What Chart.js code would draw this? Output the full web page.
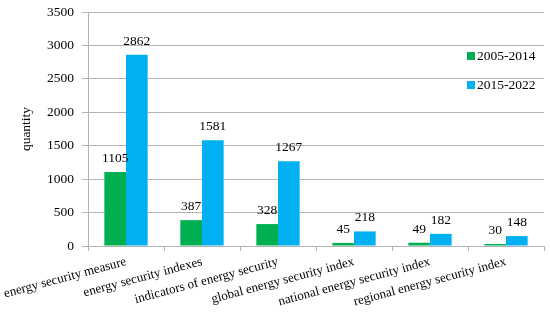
<!DOCTYPE html>
<html>
<head>
<meta charset="utf-8">
<script src="https://cdn.jsdelivr.net/npm/chart.js@4.4.0/dist/chart.umd.min.js"></script>
<style>
html,body{margin:0;padding:0;background:#fff;}
#wrap{width:550px;height:318px;position:relative;}
</style>
</head>
<body>
<div id="wrap"><canvas id="c" width="550" height="318"></canvas></div>
<script>
const categories = ["energy security measure","energy security indexes","indicators of energy security","global energy security index","national energy security index","regional energy security index"];
const series1Label = "2005-2014";
const series2Label = "2015-2022";
const series1 = [1105, 387, 328, 45, 49, 30];
const series2 = [2862, 1581, 1267, 218, 182, 148];
const yTicks = [0, 500, 1000, 1500, 2000, 2500, 3000, 3500];

const FONT = "'Liberation Serif', 'DejaVu Serif', serif";
const FS = 13.5;
const GRID = '#b3b3b3';

const valueLabels = {
  id: 'valueLabels',
  afterDatasetsDraw(chart) {
    const ctx = chart.ctx;
    ctx.save();
    ctx.font = FS + "px " + FONT;
    ctx.fillStyle = '#000';
    ctx.textAlign = 'center';
    ctx.textBaseline = 'alphabetic';
    chart.data.datasets.forEach((ds, i) => {
      chart.getDatasetMeta(i).data.forEach((bar, j) => {
        ctx.fillText(String(ds.data[j]), bar.x, bar.y - 10);
      });
    });
    ctx.restore();
  }
};

const customLegend = {
  id: 'customLegend',
  afterDraw(chart) {
    const ctx = chart.ctx;
    ctx.save();
    ctx.font = FS + "px " + FONT;
    ctx.textBaseline = 'middle';
    ctx.textAlign = 'left';
    const x0 = 467, ys = [56, 85];
    chart.data.datasets.forEach((ds, i) => {
      ctx.fillStyle = ds.backgroundColor;
      ctx.fillRect(x0, ys[i] - 4, 8, 8);
      ctx.fillStyle = '#000';
      ctx.fillText(ds.label, x0 + 10, ys[i]);
    });
    ctx.restore();
  }
};

new Chart(document.getElementById('c'), {
  type: 'bar',
  data: {
    labels: categories,
    datasets: [
      { label: series1Label, data: series1, backgroundColor: '#00b050', categoryPercentage: 0.57, barPercentage: 1.0 },
      { label: series2Label, data: series2, backgroundColor: '#00b0f0', categoryPercentage: 0.57, barPercentage: 1.0 }
    ]
  },
  options: {
    responsive: false,
    animation: false,
    devicePixelRatio: 1,
    layout: { padding: { left: 18, right: 6, top: 12, bottom: 0 } },
    plugins: { legend: { display: false }, tooltip: { enabled: false } },
    scales: {
      x: {
        grid: { display: true, drawOnChartArea: false, drawTicks: true, tickLength: 5, color: GRID, offset: true },
        border: { display: true, color: GRID },
        ticks: {
          color: '#000', font: { family: FONT, size: 13 },
          minRotation: 15, maxRotation: 15, autoSkip: false, padding: 3
        },
        afterFit(scale) { scale.height = 72; scale.paddingLeft = 0; scale.paddingRight = 0; }
      },
      y: {
        min: 0, max: 3500,
        afterBuildTicks(scale) { scale.ticks = yTicks.map(v => ({ value: v })); },
        grid: { color: GRID, tickLength: 6 },
        border: { display: true, color: GRID },
        ticks: { color: '#000', font: { family: FONT, size: FS }, padding: 8, callback: v => String(v) },
        title: { display: true, text: 'quantity', color: '#000', font: { family: FONT, size: FS }, padding: { top: 0, bottom: 8 } },
        afterFit(scale) { scale.width = 70; scale.paddingTop = 0; scale.paddingBottom = 0; }
      }
    }
  },
  plugins: [valueLabels, customLegend]
});
</script>
</body>
</html>
